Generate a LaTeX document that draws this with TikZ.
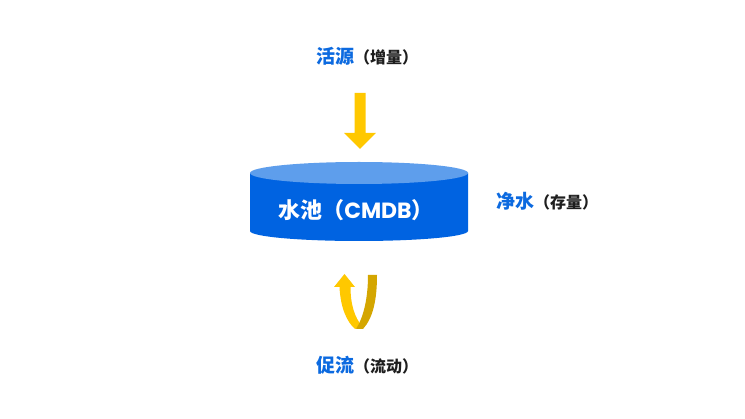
\documentclass[tikz,border=0pt]{standalone}
\usepackage{fontspec}
\setmainfont{Noto Sans CJK SC}
\newfontfamily\cmdbfont{Poppins}
\definecolor{lblblue}{RGB}{12,106,224}
\definecolor{lblblack}{RGB}{30,30,30}
\definecolor{bodyblue}{RGB}{0,99,225}
\definecolor{topblue}{RGB}{94,158,236}
\definecolor{arrowyellow}{RGB}{255,200,0}
\definecolor{arrowgold}{RGB}{212,166,0}
\tikzset{
  lbl/.style={inner sep=0pt, font=\bfseries, anchor=west},
}
\newcommand{\lblpair}[2]{{\color{lblblue}\fontsize{19}{20}\selectfont\bfseries #1}{\color{lblblack}\fontsize{16}{17}\selectfont\bfseries #2}}
\begin{document}
\begin{tikzpicture}[x=1pt,y=-1pt]
\useasboundingbox (0,0) rectangle (745,419);
\fill[white] (0,0) rectangle (745,419);
% top label
\node[lbl] (src) at (316,56) {\lblpair{活源}{（增量）}};
% down arrow
\fill[arrowyellow] (354.5,93) -- (365.5,93) -- (365.5,133) -- (376,133) -- (360,149) -- (344,133) -- (354.5,133) -- cycle;
% cylinder
\fill[bodyblue] (250,173) -- (250,231) arc[start angle=180,end angle=0,x radius=109,y radius=10] -- (468,173) -- cycle;
\fill[topblue] (359,173) ellipse[x radius=109,y radius=11];
\node[inner sep=0pt, text=white, font=\bfseries\fontsize{22}{24}\selectfont] (pool) at (356,210) {水池（{\cmdbfont\bfseries CMDB}）};
% right label
\node[lbl] (clean) at (496,201) {\lblpair{净水}{（存量）}};
% U-turn arrow
\fill[arrowyellow] (339.5,287) .. controls (340.5,308) and (347,322) .. (355,329) -- (362,326) .. controls (355,318) and (350.5,305) .. (350.5,287) -- cycle;
\fill[arrowyellow] (334,287) -- (344.5,274) -- (355,287) -- cycle;
\fill[arrowgold] (368,275) -- (377,275) .. controls (377,300) and (373,318) .. (363,329) -- (356,329) .. controls (363,318) and (368,300) .. (368,275) -- cycle;
% bottom label
\node[lbl] (flow) at (316,365) {\lblpair{促流}{（流动）}};
\end{tikzpicture}
\end{document}
